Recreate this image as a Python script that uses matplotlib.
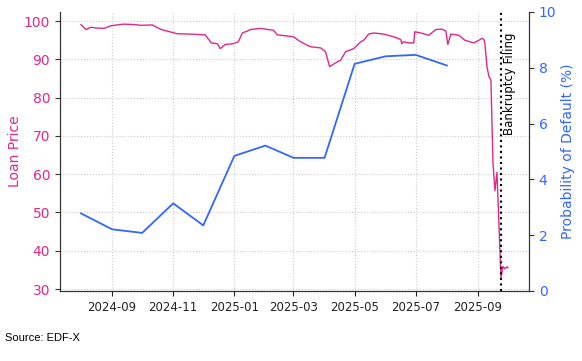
import matplotlib
matplotlib.use("Agg")
import matplotlib.pyplot as plt
import matplotlib.dates as mdates
import numpy as np
import pandas as pd

# loan price
price_dates = ["2024-08-01", "2024-08-06", "2024-08-11", "2024-08-16", "2024-08-24",
               "2024-08-31", "2024-09-12", "2024-09-23", "2024-09-30", "2024-10-11",
               "2024-10-20", "2024-11-05", "2024-11-19", "2024-12-03", "2024-12-09",
               "2024-12-15", "2024-12-18", "2024-12-23", "2024-12-31", "2025-01-05",
               "2025-01-09", "2025-01-14", "2025-01-17", "2025-01-27", "2025-02-09",
               "2025-02-13", "2025-03-01", "2025-03-08", "2025-03-18", "2025-03-28",
               "2025-04-02", "2025-04-06", "2025-04-12", "2025-04-17", "2025-04-22",
               "2025-04-30", "2025-05-07", "2025-05-10", "2025-05-15", "2025-05-20",
               "2025-05-30", "2025-06-09", "2025-06-16", "2025-06-17", "2025-06-19",
               "2025-06-24", "2025-06-29", "2025-06-30", "2025-07-06", "2025-07-14",
               "2025-07-21", "2025-07-27", "2025-07-31", "2025-08-02", "2025-08-05",
               "2025-08-13", "2025-08-19", "2025-08-28", "2025-09-02", "2025-09-05",
               "2025-09-07", "2025-09-08", "2025-09-10", "2025-09-12", "2025-09-14",
               "2025-09-16", "2025-09-18", "2025-09-20", "2025-09-24", "2025-09-26",
               "2025-09-28", "2025-09-30", "2025-10-01"]
price_vals = [99.1, 97.8, 98.4, 98.2, 98.1,
              98.8, 99.2, 99.1, 98.9, 99.0,
              97.8, 96.7, 96.6, 96.4, 94.3,
              94.1, 92.8, 93.9, 94.1, 94.6,
              96.9, 97.4, 97.8, 98.1, 97.6,
              96.4, 95.9, 94.6, 93.3, 93.0,
              92.0, 88.1, 89.1, 89.8, 92.0,
              92.8, 94.6, 95.0, 96.6, 96.9,
              96.6, 95.9, 95.2, 94.1, 94.6,
              94.3, 94.3, 97.2, 96.9, 96.3,
              97.8, 97.9, 97.4, 93.9, 96.6,
              96.3, 95.0, 94.3, 95.0, 95.5,
              95.2, 94.1, 88.1, 85.5, 84.6,
              63.0, 55.7, 60.5, 33.0, 35.9,
              35.3, 35.8, 35.6]

# probability of default, monthly
pd_dates = ["2024-08-01", "2024-09-01", "2024-10-01", "2024-11-01", "2024-12-01",
            "2025-01-01", "2025-02-01", "2025-03-01", "2025-04-01", "2025-05-01",
            "2025-06-01", "2025-07-01", "2025-08-01"]
pd_vals = [2.78, 2.21, 2.08, 3.14, 2.35, 4.84, 5.21, 4.77, 4.77, 8.14, 8.41, 8.46, 8.08]

filing_date = "2025-09-24"

pink = "#E0288A"
blue = "#3366FF"

fig = plt.figure(figsize=(5.82, 3.61), dpi=100)
ax = fig.add_axes([0.103, 0.194, 0.806, 0.773])
ax2 = ax.twinx()

ax.plot(pd.to_datetime(price_dates), price_vals, color=pink, lw=1.0)
ax2.plot(pd.to_datetime(pd_dates), pd_vals, color=blue, lw=1.3)
ax2.axvline(pd.to_datetime(filing_date), color="black", ls=":", lw=1.5)
ax2.text(pd.to_datetime(filing_date) + pd.Timedelta(days=2), 9.25, "Bankruptcy Filing",
         rotation=90, va="top", ha="left", fontsize=8.5, color="black")

ax.set_ylim(29.5, 102.4)
ax2.set_ylim(0, 10)
ax.set_xlim(pd.to_datetime("2024-07-11"), pd.to_datetime("2025-10-22"))
ax.xaxis.set_major_locator(mdates.MonthLocator(bymonth=[1, 3, 5, 7, 9, 11]))
ax.xaxis.set_major_formatter(mdates.DateFormatter("%Y-%m"))

ax.set_ylabel("Loan Price", color=pink, fontsize=10, labelpad=1)
ax2.set_ylabel("Probability of Default (%)", color=blue, fontsize=10, labelpad=3)
ax.tick_params(axis="y", colors=pink, labelsize=10)
ax2.tick_params(axis="y", colors=blue, labelsize=10)
ax.tick_params(axis="x", labelsize=8.5, colors="#222222")
for a in (ax, ax2):
    a.tick_params(axis="y", color="#333333")
    a.spines["top"].set_visible(False)
    for s in ("left", "right", "bottom"):
        a.spines[s].set_color("#333333")

ax.grid(True, ls=":", color="#cccccc", lw=0.8)
ax.set_axisbelow(True)

fig.text(0.009, 0.064, "Source: EDF-X", fontsize=8, family="Liberation Sans", va="center")

fig.savefig("out.png", dpi=100)
